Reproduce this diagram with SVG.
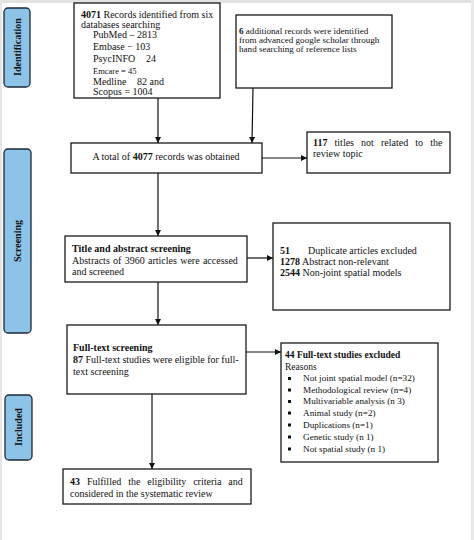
<svg xmlns="http://www.w3.org/2000/svg" width="474" height="540" viewBox="0 0 474 540">
<style>
.box{fill:#fff;stroke:#1a1a1a;stroke-width:1.3}
.lab{fill:#8ec3e8;stroke:#1b2a3a;stroke-width:1.3}
.t{font-family:"Liberation Serif","Times New Roman",serif;font-size:10px;fill:#111}
.s{font-size:9.5px}
.b{font-weight:bold}
.lt{font-family:"Liberation Serif","Times New Roman",serif;font-size:10px;font-weight:bold;fill:#111}
.c{fill:none;stroke:#111;stroke-width:1.2;marker-end:url(#ah)}
</style>
<defs>
<marker id="ah" markerUnits="userSpaceOnUse" markerWidth="7" markerHeight="7" refX="6" refY="3" orient="auto">
<path d="M0,0 L6,3 L0,6 Z" fill="#111"/>
</marker>
</defs>
<rect width="474" height="540" fill="#fff"/>
<rect x="0" y="0" width="474" height="3" fill="#e2e2e2"/>
<rect x="0" y="0" width="2" height="540" fill="#e6e6e6"/>
<rect x="471" y="0" width="3" height="540" fill="#e8e8e8"/>

<g id="label-identification">
<rect class="lab" x="4" y="8" width="26" height="79" rx="4"/>
<text class="lt" transform="translate(21,47) rotate(-90)" text-anchor="middle">Identification</text>
</g>
<g id="label-screening">
<rect class="lab" x="4" y="149" width="27" height="184" rx="4"/>
<text class="lt" transform="translate(21,241) rotate(-90)" text-anchor="middle">Screening</text>
</g>
<g id="label-included">
<rect class="lab" x="5" y="395" width="27" height="65" rx="4"/>
<text class="lt" transform="translate(22,427) rotate(-90)" text-anchor="middle">Included</text>
</g>

<g id="connectors">
<path class="c" d="M158,98 V143"/>
<path class="c" d="M253,88 L252,143"/>
<path class="c" d="M262,158 H307"/>
<path class="c" d="M158,173 V236"/>
<path class="c" d="M247,258 H273"/>
<path class="c" d="M158,282 V325"/>
<path class="c" d="M246,352 H281"/>
<path class="c" d="M152,394 V469"/>
</g>

<g id="records-databases">
<rect class="box" x="74" y="3" width="146" height="95"/>
<text class="t" x="81" y="17.5"><tspan class="b">4071</tspan> Records identified from six</text>
<text class="t" x="81" y="27.5">databases searching</text>
<text class="t" x="93" y="38">PubMed – 2813</text>
<text class="t" x="93" y="49.5">Embase − 103</text>
<text class="t" x="93" y="62">PsycINFO<tspan x="146">24</tspan></text>
<text class="t" x="93" y="74" style="font-size:8.5px">Emcare = 45</text>
<text class="t" x="93" y="84.5">Medline<tspan x="137">82 and</tspan></text>
<text class="t" x="93" y="95">Scopus = 1004</text>
</g>

<g id="records-additional">
<rect class="box" x="236" y="15" width="156" height="73"/>
<text class="t" style="font-size:9.1px" x="239" y="34"><tspan class="b">6</tspan> additional records were identified</text>
<text class="t" style="font-size:9.1px" x="239" y="43">from advanced google scholar through</text>
<text class="t" style="font-size:9.1px" x="239" y="52">hand searching of reference lists</text>
</g>

<g id="total-records">
<rect class="box" x="71" y="143" width="191" height="30"/>
<text class="t" x="166" y="159.5" text-anchor="middle">A total of <tspan class="b">4077</tspan> records was obtained</text>
</g>

<g id="excluded-titles">
<rect class="box" x="307" y="132" width="143" height="41"/>
<text class="t" x="313" y="146" word-spacing="4.6"><tspan class="b">117</tspan> titles not related to the</text>
<text class="t" x="313" y="157">review topic</text>
</g>

<g id="title-abstract-screening">
<rect class="box" x="65" y="236" width="182" height="46"/>
<text class="t b" x="72" y="252">Title and abstract screening</text>
<text class="t" x="72" y="263.5" word-spacing="0.8">Abstracts of 3960 articles were accessed</text>
<text class="t" x="72" y="275">and screened</text>
</g>

<g id="excluded-abstracts">
<rect class="box" x="273" y="223" width="177" height="87"/>
<text class="t" x="280" y="254"><tspan class="b">51</tspan><tspan x="308">Duplicate articles excluded</tspan></text>
<text class="t" x="280" y="265"><tspan class="b">1278</tspan> Abstract non-relevant</text>
<text class="t" x="280" y="276"><tspan class="b">2544</tspan> Non-joint spatial models</text>
</g>

<g id="full-text-screening">
<rect class="box" x="67" y="325" width="179" height="69"/>
<text class="t b" x="73" y="351">Full-text screening</text>
<text class="t" x="73" y="363"><tspan class="b">87</tspan> Full-text studies were eligible for full-</text>
<text class="t" x="73" y="375">text screening</text>
</g>

<g id="excluded-full-text">
<rect class="box" x="281" y="343" width="157" height="119"/>
<text class="t s b" x="285" y="358">44 Full-text studies excluded</text>
<text class="t s" x="285" y="369.5">Reasons</text>
<g fill="#111">
<rect x="288" y="377" width="3" height="3"/>
<rect x="288" y="388.5" width="3" height="3"/>
<rect x="288" y="400" width="3" height="3"/>
<rect x="288" y="411.5" width="3" height="3"/>
<rect x="288" y="423.5" width="3" height="3"/>
<rect x="288" y="435.5" width="3" height="3"/>
<rect x="288" y="447.5" width="3" height="3"/>
</g>
<text class="t" style="font-size:9.2px" x="303" y="381">Not joint spatial model (n=32)</text>
<text class="t" style="font-size:9.2px" x="303" y="392.5">Methodological review (n=4)</text>
<text class="t" style="font-size:9.2px" x="303" y="404">Multivariable analysis (n  3)</text>
<text class="t" style="font-size:9.2px" x="303" y="415.5">Animal study (n=2)</text>
<text class="t" style="font-size:9.2px" x="303" y="427.5">Duplications (n=1)</text>
<text class="t" style="font-size:9.2px" x="303" y="439.5">Genetic study (n  1)</text>
<text class="t" style="font-size:9.2px" x="303" y="451.5">Not spatial study (n  1)</text>
</g>

<g id="included-studies">
<rect class="box" x="63" y="469" width="188" height="35"/>
<text class="t" x="70" y="485" word-spacing="4.4"><tspan class="b">43</tspan> Fulfilled the eligibility criteria and</text>
<text class="t" x="70" y="496.5">considered in the systematic review</text>
</g>
</svg>
